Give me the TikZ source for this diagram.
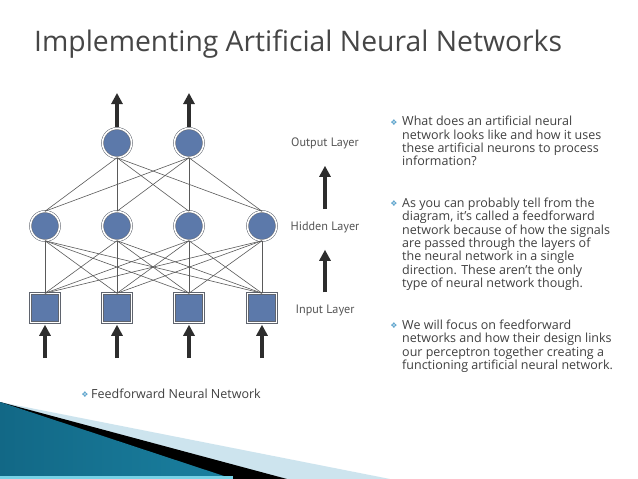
\documentclass[tikz,border=0pt]{standalone}
\usepackage{fontspec}
\setmainfont{Open Sans}
\newfontfamily\symfont{DejaVu Sans}
\newfontfamily\labelfont{PT Sans}
\usetikzlibrary{arrows.meta}
\definecolor{nodeblue}{RGB}{92,121,170}
\definecolor{ringgray}{RGB}{95,100,110}
\definecolor{linkgray}{RGB}{90,90,90}
\definecolor{arrowdark}{RGB}{45,45,45}
\definecolor{textgray}{RGB}{64,64,64}
\definecolor{titlegray}{RGB}{70,70,70}
\definecolor{labelgray}{RGB}{85,85,85}
\definecolor{bulletblue}{RGB}{95,165,205}
\definecolor{tealdark}{RGB}{18,104,134}
\definecolor{teallight}{RGB}{88,182,216}
\definecolor{tealright}{RGB}{26,128,160}
\definecolor{wedgeblue}{RGB}{205,228,238}
\definecolor{stripcyan}{RGB}{120,210,230}
\begin{document}
\begin{tikzpicture}[x=1pt,y=-1pt,
  neuron/.style={circle, fill=nodeblue, draw=ringgray, double=white, double distance=1.6pt, line width=0.5pt, minimum size=29pt, inner sep=0pt},
  inbox/.style={rectangle, fill=nodeblue, draw=ringgray, double=white, double distance=1.6pt, line width=0.5pt, minimum size=29pt, inner sep=0pt},
  link/.style={draw=linkgray, line width=0.6pt},
  flow/.style={draw=arrowdark, line width=4pt, -{Triangle[width=11pt,length=11pt]}},
  layerlabel/.style={font=\labelfont\fontsize{12.2}{14}\selectfont, text=labelgray, inner sep=0pt},
  bodytext/.style={font=\fontsize{12.5}{13.4}\selectfont, text=textgray, align=left, inner sep=0pt, anchor=north west},
  bulletmark/.style={font=\symfont\fontsize{8}{8}\selectfont, text=bulletblue, inner sep=0pt}
]
\useasboundingbox (0,0) rectangle (638,479);
\fill[white] (0,0) rectangle (638,479);

% bottom-left decoration
\fill[wedgeblue] (0,402) -- (390,479) -- (0,479) -- cycle;
\fill[black] (0,402) -- (287,479) -- (0,479) -- cycle;
\shade[left color=tealdark, middle color=teallight, right color=tealright] (0,402) -- (233,479) -- (0,479) -- cycle;
\fill[stripcyan] (0,476) rectangle (233,479);

% title
\node[anchor=base west, inner sep=0pt, text=titlegray, font=\fontsize{28.3}{34}\selectfont] (title) at (34,52) {Implementing Artificial Neural Networks};

% network nodes
\node[neuron] (o1) at (117,143) {};
\node[neuron] (o2) at (189,143) {};
\node[neuron] (h1) at (45,226) {};
\node[neuron] (h2) at (117,226) {};
\node[neuron] (h3) at (189,226) {};
\node[neuron] (h4) at (262,226) {};
\node[inbox] (i1) at (45,308) {};
\node[inbox] (i2) at (117,308) {};
\node[inbox] (i3) at (189,308) {};
\node[inbox] (i4) at (262,308) {};

% links
\foreach \o in {o1,o2}{
  \foreach \h in {h1,h2,h3,h4}{
    \draw[link] (\o.south) -- (\h.north);
  }
}
\foreach \h in {h1,h2,h3,h4}{
  \foreach \i in {i1,i2,i3,i4}{
    \draw[link] (\h.south) -- (\i.north);
  }
}

% output arrows
\coordinate (oa1) at (117,93);
\coordinate (oa2) at (189,93);
\draw[flow, shorten <=1pt] (o1.north) -- (oa1);
\draw[flow, shorten <=1pt] (o2.north) -- (oa2);

% input arrows
\coordinate (ia1) at (45,358);
\coordinate (ia2) at (117,358);
\coordinate (ia3) at (189,358);
\coordinate (ia4) at (262,358);
\draw[flow, shorten >=2pt] (ia1) -- (i1.south);
\draw[flow, shorten >=2pt] (ia2) -- (i2.south);
\draw[flow, shorten >=2pt] (ia3) -- (i3.south);
\draw[flow, shorten >=2pt] (ia4) -- (i4.south);

% layer labels
\node[layerlabel] (ol) at (325,143) {Output Layer};
\node[layerlabel] (hl) at (325,227) {Hidden Layer};
\node[layerlabel] (il) at (325,310) {Input Layer};
\draw[flow, shorten <=12pt, shorten >=17pt] (hl.north) -- (ol.south);
\draw[flow, shorten <=12pt, shorten >=17pt] (il.north) -- (hl.south);

% right-hand text
\node[bulletmark] (b1) at (394,123) {❖};
\node[bodytext] (p1) at (402,116) {What does an artificial neural\\network looks like and how it uses\\these artificial neurons to process\\information?};
\node[bulletmark] (b2) at (394,204) {❖};
\node[bodytext] (p2) at (402,197.5) {As you can probably tell from the\\diagram, it's called a feedforward\\network because of how the signals\\are passed through the layers of\\the neural network in a single\\direction. These aren't the only\\type of neural network though.};
\node[bulletmark] (b3) at (394,326) {❖};
\node[bodytext] (p3) at (402,319.5) {We will focus on feedforward\\networks and how their design links\\our perceptron together creating a\\functioning artificial neural network.};

% caption
\node[bulletmark] (b4) at (85,395) {❖};
\node[bodytext, anchor=west] (cap) at (91,394) {Feedforward Neural Network};
\end{tikzpicture}
\end{document}
